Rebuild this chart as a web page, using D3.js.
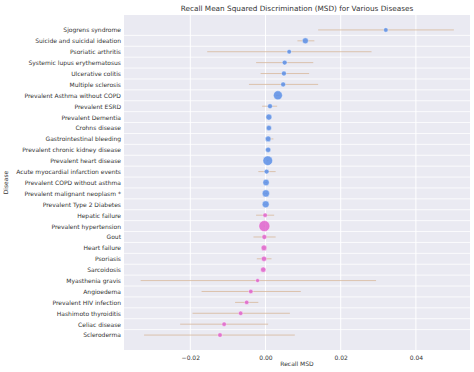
<!DOCTYPE html>
<html>
<head>
<meta charset="utf-8">
<script src="https://cdn.jsdelivr.net/npm/d3@7"></script>
<style>
  body { margin: 0; background: #fff; -webkit-font-smoothing: antialiased; }
  svg text { font-family: "DejaVu Sans", sans-serif; fill: #333; text-rendering: geometricPrecision; }
</style>
</head>
<body>
<div id="chart"></div>
<script>
const diseases = [
  'Sjogrens syndrome', 'Suicide and suicidal ideation', 'Psoriatic arthritis',
  'Systemic lupus erythematosus', 'Ulcerative colitis', 'Multiple sclerosis',
  'Prevalent Asthma without COPD', 'Prevalent ESRD', 'Prevalent Dementia',
  'Crohns disease', 'Gastrointestinal bleeding', 'Prevalent chronic kidney disease',
  'Prevalent heart disease', 'Acute myocardial infarction events',
  'Prevalent COPD without asthma', 'Prevalent malignant neoplasm *',
  'Prevalent Type 2 Diabetes', 'Hepatic failure', 'Prevalent hypertension',
  'Gout', 'Heart failure', 'Psoriasis', 'Sarcoidosis', 'Myasthenia gravis',
  'Angioedema', 'Prevalent HIV infection', 'Hashimoto thyroiditis',
  'Celiac disease', 'Scleroderma'
];
const msd = [
  0.0320, 0.0106, 0.0063, 0.0051, 0.0049, 0.0047, 0.0033, 0.0012, 0.0009,
  0.0009, 0.0007, 0.0007, 0.0006, 0.0003, 0.00015, 0.0001, 0.00005, -0.0001,
  -0.0003, -0.0003, -0.0004, -0.0004, -0.0006, -0.0021, -0.0039, -0.0050,
  -0.0066, -0.0110, -0.0121
];
const ciLow = [
  0.0140, 0.0085, -0.0155, -0.0025, -0.0013, -0.0044, 0.0028, -0.0009, 0.0005,
  0.0004, 0.0001, 0.0002, 0.0004, -0.0019, -0.0002, -0.0002, -0.0002, -0.0025,
  -0.0005, -0.0032, -0.0008, -0.0023, -0.0010, -0.0332, -0.0170, -0.0081,
  -0.0194, -0.0227, -0.0323
];
const ciHigh = [
  0.0501, 0.0130, 0.0282, 0.0127, 0.0116, 0.0140, 0.0038, 0.0031, 0.0013,
  0.0014, 0.0021, 0.0012, 0.0008, 0.0027, 0.0004, 0.0004, 0.0003, 0.0023,
  -0.0001, 0.0027, 0.0000, 0.0016, -0.0002, 0.0294, 0.0094, -0.0019,
  0.0065, 0.0007, 0.0078
];
// relative cohort size, drives marker area
const cohort = [
  5, 9, 5, 6, 6, 6, 20, 6, 9, 7, 8, 7, 23, 6, 10, 13, 12, 5, 30,
  6, 8, 7, 7, 4, 5, 5, 5, 5, 5
];
const xTicks = [-0.02, 0, 0.02, 0.04];

const width = 474, height = 372;
const margin = { top: 15, right: 4, bottom: 22, left: 124 };
const plotW = width - margin.left - margin.right;
const plotH = height - margin.top - margin.bottom;

const data = diseases.map((d, i) => ({
  name: d, v: msd[i], lo: ciLow[i], hi: ciHigh[i], n: cohort[i]
}));

const svg = d3.select('#chart').append('svg')
  .attr('width', width)
  .attr('height', height);

const g = svg.append('g')
  .attr('transform', `translate(${margin.left},${margin.top})`);

const x = d3.scaleLinear()
  .domain([-0.03763, 0.05439])
  .range([0, plotW]);

const y = d3.scalePoint()
  .domain(diseases)
  .range([0, plotH])
  .padding(1.37);

const r = d3.scaleSqrt()
  .domain([0, 30])
  .range([0, 5.5]);

g.append('rect')
  .attr('width', plotW)
  .attr('height', plotH)
  .attr('fill', '#eaeaf2');

// grid: vertical at ticks, horizontal between rows
g.selectAll('.vgrid')
  .data(xTicks)
  .enter()
  .append('line')
  .attr('x1', d => x(d)).attr('x2', d => x(d))
  .attr('y1', 0).attr('y2', plotH)
  .attr('stroke', '#fff')
  .attr('stroke-width', 1);

const step = y.step();
g.selectAll('.hgrid')
  .data(diseases.slice(0, -1))
  .enter()
  .append('line')
  .attr('x1', 0).attr('x2', plotW)
  .attr('y1', d => y(d) + step / 2).attr('y2', d => y(d) + step / 2)
  .attr('stroke', '#fff')
  .attr('stroke-width', 0.8);

// error bars
g.selectAll('.err')
  .data(data)
  .enter()
  .append('line')
  .attr('x1', d => x(d.lo)).attr('x2', d => x(d.hi))
  .attr('y1', d => y(d.name)).attr('y2', d => y(d.name))
  .attr('stroke', '#d8b89c')
  .attr('stroke-opacity', 0.9)
  .attr('stroke-width', 0.9);

g.selectAll('.dot')
  .data(data)
  .enter()
  .append('circle')
  .attr('cx', d => x(d.v))
  .attr('cy', d => y(d.name))
  .attr('r', d => r(d.n))
  .attr('fill', d => d.v >= 0 ? '#5b8ee6' : '#e064cc')
  .attr('fill-opacity', 0.85)
  .attr('stroke', '#fff')
  .attr('stroke-width', 0.4);

// axes
const xAxis = d3.axisBottom(x)
  .tickValues(xTicks)
  .tickSize(0)
  .tickPadding(6)
  .tickFormat(d3.format('.2f'));
g.append('g')
  .attr('transform', `translate(0,${plotH})`)
  .call(xAxis)
  .call(s => s.select('.domain').remove())
  .selectAll('text')
  .attr('fill', '#333')
  .attr('font-size', 6)
  .attr('font-family', '"DejaVu Sans", sans-serif');

const yAxis = d3.axisLeft(y)
  .tickSize(0)
  .tickPadding(3);
g.append('g')
  .call(yAxis)
  .call(s => s.select('.domain').remove())
  .selectAll('text')
  .attr('fill', '#333')
  .attr('font-size', 6)
  .attr('font-family', '"DejaVu Sans", sans-serif');

svg.append('text')
  .attr('x', margin.left + plotW / 2)
  .attr('y', 10.5)
  .attr('text-anchor', 'middle')
  .attr('font-size', 7.3)
  .text('Recall Mean Squared Discrimination (MSD) for Various Diseases');

svg.append('text')
  .attr('x', margin.left + plotW / 2)
  .attr('y', 366)
  .attr('text-anchor', 'middle')
  .attr('font-size', 6)
  .text('Recall MSD');

svg.append('text')
  .attr('transform', `translate(8,${margin.top + plotH / 2}) rotate(-90)`)
  .attr('text-anchor', 'middle')
  .attr('font-size', 6)
  .text('Disease');
</script>
</body>
</html>
